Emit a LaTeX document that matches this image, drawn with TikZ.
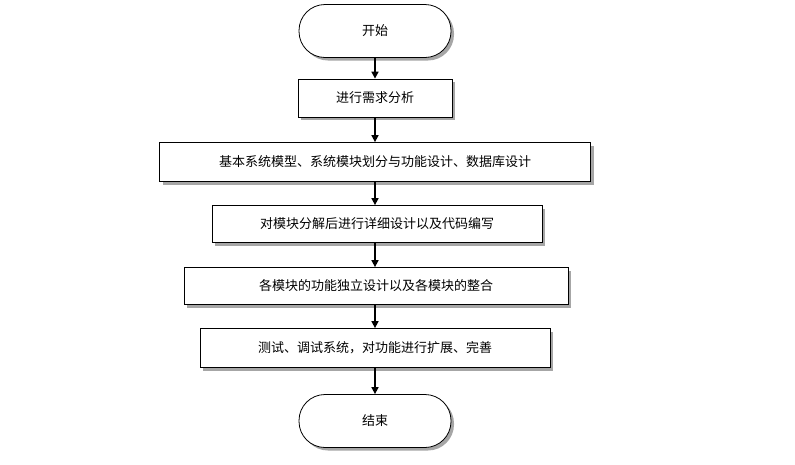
\documentclass[tikz,border=0pt]{standalone}
\usepackage{fontspec}
\setmainfont{Noto Sans CJK SC}
\usetikzlibrary{arrows.meta,shadows}
\begin{document}
\begin{tikzpicture}[x=1pt,y=-1pt,
  base/.style={draw=black,line width=0.8pt,fill=white,font=\fontsize{13}{15}\selectfont,inner sep=0pt,
    drop shadow={shadow xshift=3pt,shadow yshift=-3pt,fill=black!35,opacity=1}},
  term/.style={base,rounded corners=26pt,minimum width=152pt,minimum height=53pt},
  stepbox/.style={base,minimum height=38pt},
  arr/.style={-{Triangle[length=7pt,width=7pt]},line width=1.6pt}]
\useasboundingbox (0,0) rectangle (795,464);
\node[term] (s) at (375,31) {开始};
\node[stepbox,minimum width=154pt] (a) at (375,98) {进行需求分析};
\node[stepbox,minimum width=431pt,minimum height=39pt] (b) at (375,162) {基本系统模型、系统模块划分与功能设计、数据库设计};
\node[stepbox,minimum width=330pt,minimum height=37pt] (c) at (377,224) {对模块分解后进行详细设计以及代码编写};
\node[stepbox,minimum width=384pt,minimum height=37pt] (d) at (376,286) {各模块的功能独立设计以及各模块的整合};
\node[stepbox,minimum width=350pt,minimum height=39pt] (e) at (375,348) {测试、调试系统，对功能进行扩展、完善};
\node[term] (t) at (375,421) {结束};
\draw[arr] (s) -- (a);
\draw[arr] (a) -- (b);
\draw[arr] (b.south -| a) -- (c.north -| a);
\draw[arr] (c.south -| a) -- (d.north -| a);
\draw[arr] (d.south -| a) -- (e.north -| a);
\draw[arr] (e) -- (t);
\end{tikzpicture}
\end{document}
